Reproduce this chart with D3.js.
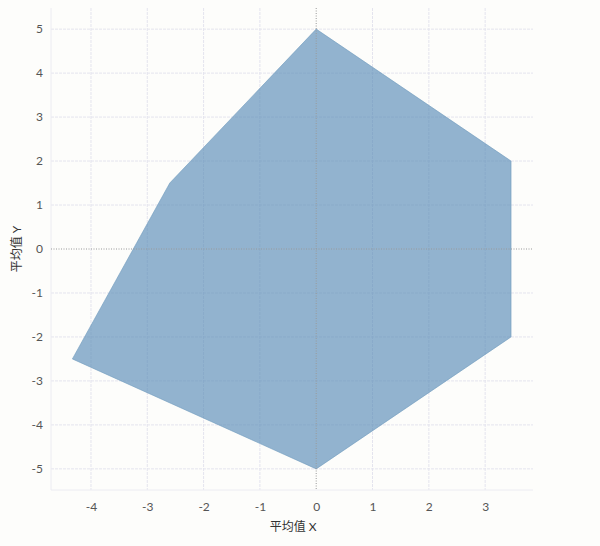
<!DOCTYPE html>
<html>
<head>
<meta charset="utf-8">
<title>Polygon</title>
<script src="https://d3js.org/d3.v7.min.js"></script>
<style>
  body { margin: 0; background: #fdfdfb; }
  text { font-family: Lato, "Noto Sans CJK SC", sans-serif; }
</style>
</head>
<body>
<div id="chart"></div>
<script>
// polygon vertices (平均值 X, 平均值 Y)
var xValues = [0, 3.46, 3.46, 0, -4.33, -2.6];
var yValues = [5, 2, -2, -5, -2.5, 1.5];
var xTicks = [-4, -3, -2, -1, 0, 1, 2, 3];
var yTicks = [-5, -4, -3, -2, -1, 0, 1, 2, 3, 4, 5];

var W = 600, H = 546;
var margin = {top: 8, right: 67, bottom: 56, left: 51},
    width = W - margin.left - margin.right,
    height = H - margin.top - margin.bottom;

var x = d3.scaleLinear().domain([-4.71, 3.85]).range([0, width]);
var y = d3.scaleLinear().domain([-5.48, 5.48]).range([height, 0]);

var svg = d3.select("#chart").append("svg")
    .attr("width", W).attr("height", H)
    .style("background", "#fdfdfb");

var g = svg.append("g")
    .attr("transform", "translate(" + margin.left + "," + margin.top + ")");

// grid
var grid = g.append("g");
grid.selectAll(".vx").data(xTicks.filter(d => d !== 0)).enter().append("line")
    .attr("x1", d => x(d)).attr("x2", d => x(d))
    .attr("y1", 0).attr("y2", height)
    .attr("stroke", "#e4e4ee").attr("stroke-dasharray", "3,1");
grid.selectAll(".hy").data(yTicks.filter(d => d !== 0)).enter().append("line")
    .attr("y1", d => y(d)).attr("y2", d => y(d))
    .attr("x1", 0).attr("x2", width)
    .attr("stroke", "#e4e4ee").attr("stroke-dasharray", "3,1");
// plot edges
grid.append("line").attr("x1", 0).attr("x2", 0).attr("y1", 0).attr("y2", height)
    .attr("stroke", "#ececf2");
grid.append("line").attr("x1", 0).attr("x2", width).attr("y1", height).attr("y2", height)
    .attr("stroke", "#ececf2");

// polygon
var pts = xValues.map((d, i) => [x(d), y(yValues[i])]);
g.append("path")
    .attr("d", d3.line()(pts) + "Z")
    .attr("fill", "rgb(84,136,180)")
    .attr("fill-opacity", 0.63)
    .attr("stroke", "rgb(110,155,190)")
    .attr("stroke-width", 0.6);

// zero lines
g.append("line").attr("x1", x(0)).attr("x2", x(0)).attr("y1", 0).attr("y2", height)
    .attr("stroke", "#999").attr("stroke-dasharray", "1,1.5");
g.append("line").attr("y1", y(0)).attr("y2", y(0)).attr("x1", 0).attr("x2", width)
    .attr("stroke", "#999").attr("stroke-dasharray", "1,1.5");

// axes
var fmt = d => String(d);
var xAxis = g.append("g")
    .attr("transform", "translate(0," + height + ")")
    .call(d3.axisBottom(x).tickValues(xTicks).tickSize(0).tickPadding(12).tickFormat(fmt));
var yAxis = g.append("g")
    .call(d3.axisLeft(y).tickValues(yTicks).tickSize(0).tickPadding(8).tickFormat(fmt));
[xAxis, yAxis].forEach(a => {
  a.select(".domain").remove();
  a.selectAll("text").attr("fill", "#555").style("font-size", "12px")
    .style("font-family", "Lato, sans-serif");
});

// axis titles
svg.append("text")
    .attr("x", margin.left + x(0) - 23).attr("y", 531)
    .attr("text-anchor", "middle")
    .attr("fill", "#333").style("font-size", "12px")
    .text("平均值 X");
svg.append("text")
    .attr("transform", "translate(21," + (margin.top + y(0)) + ") rotate(-90)")
    .attr("text-anchor", "middle")
    .attr("fill", "#333").style("font-size", "12px")
    .text("平均值 Y");
</script>
</body>
</html>
